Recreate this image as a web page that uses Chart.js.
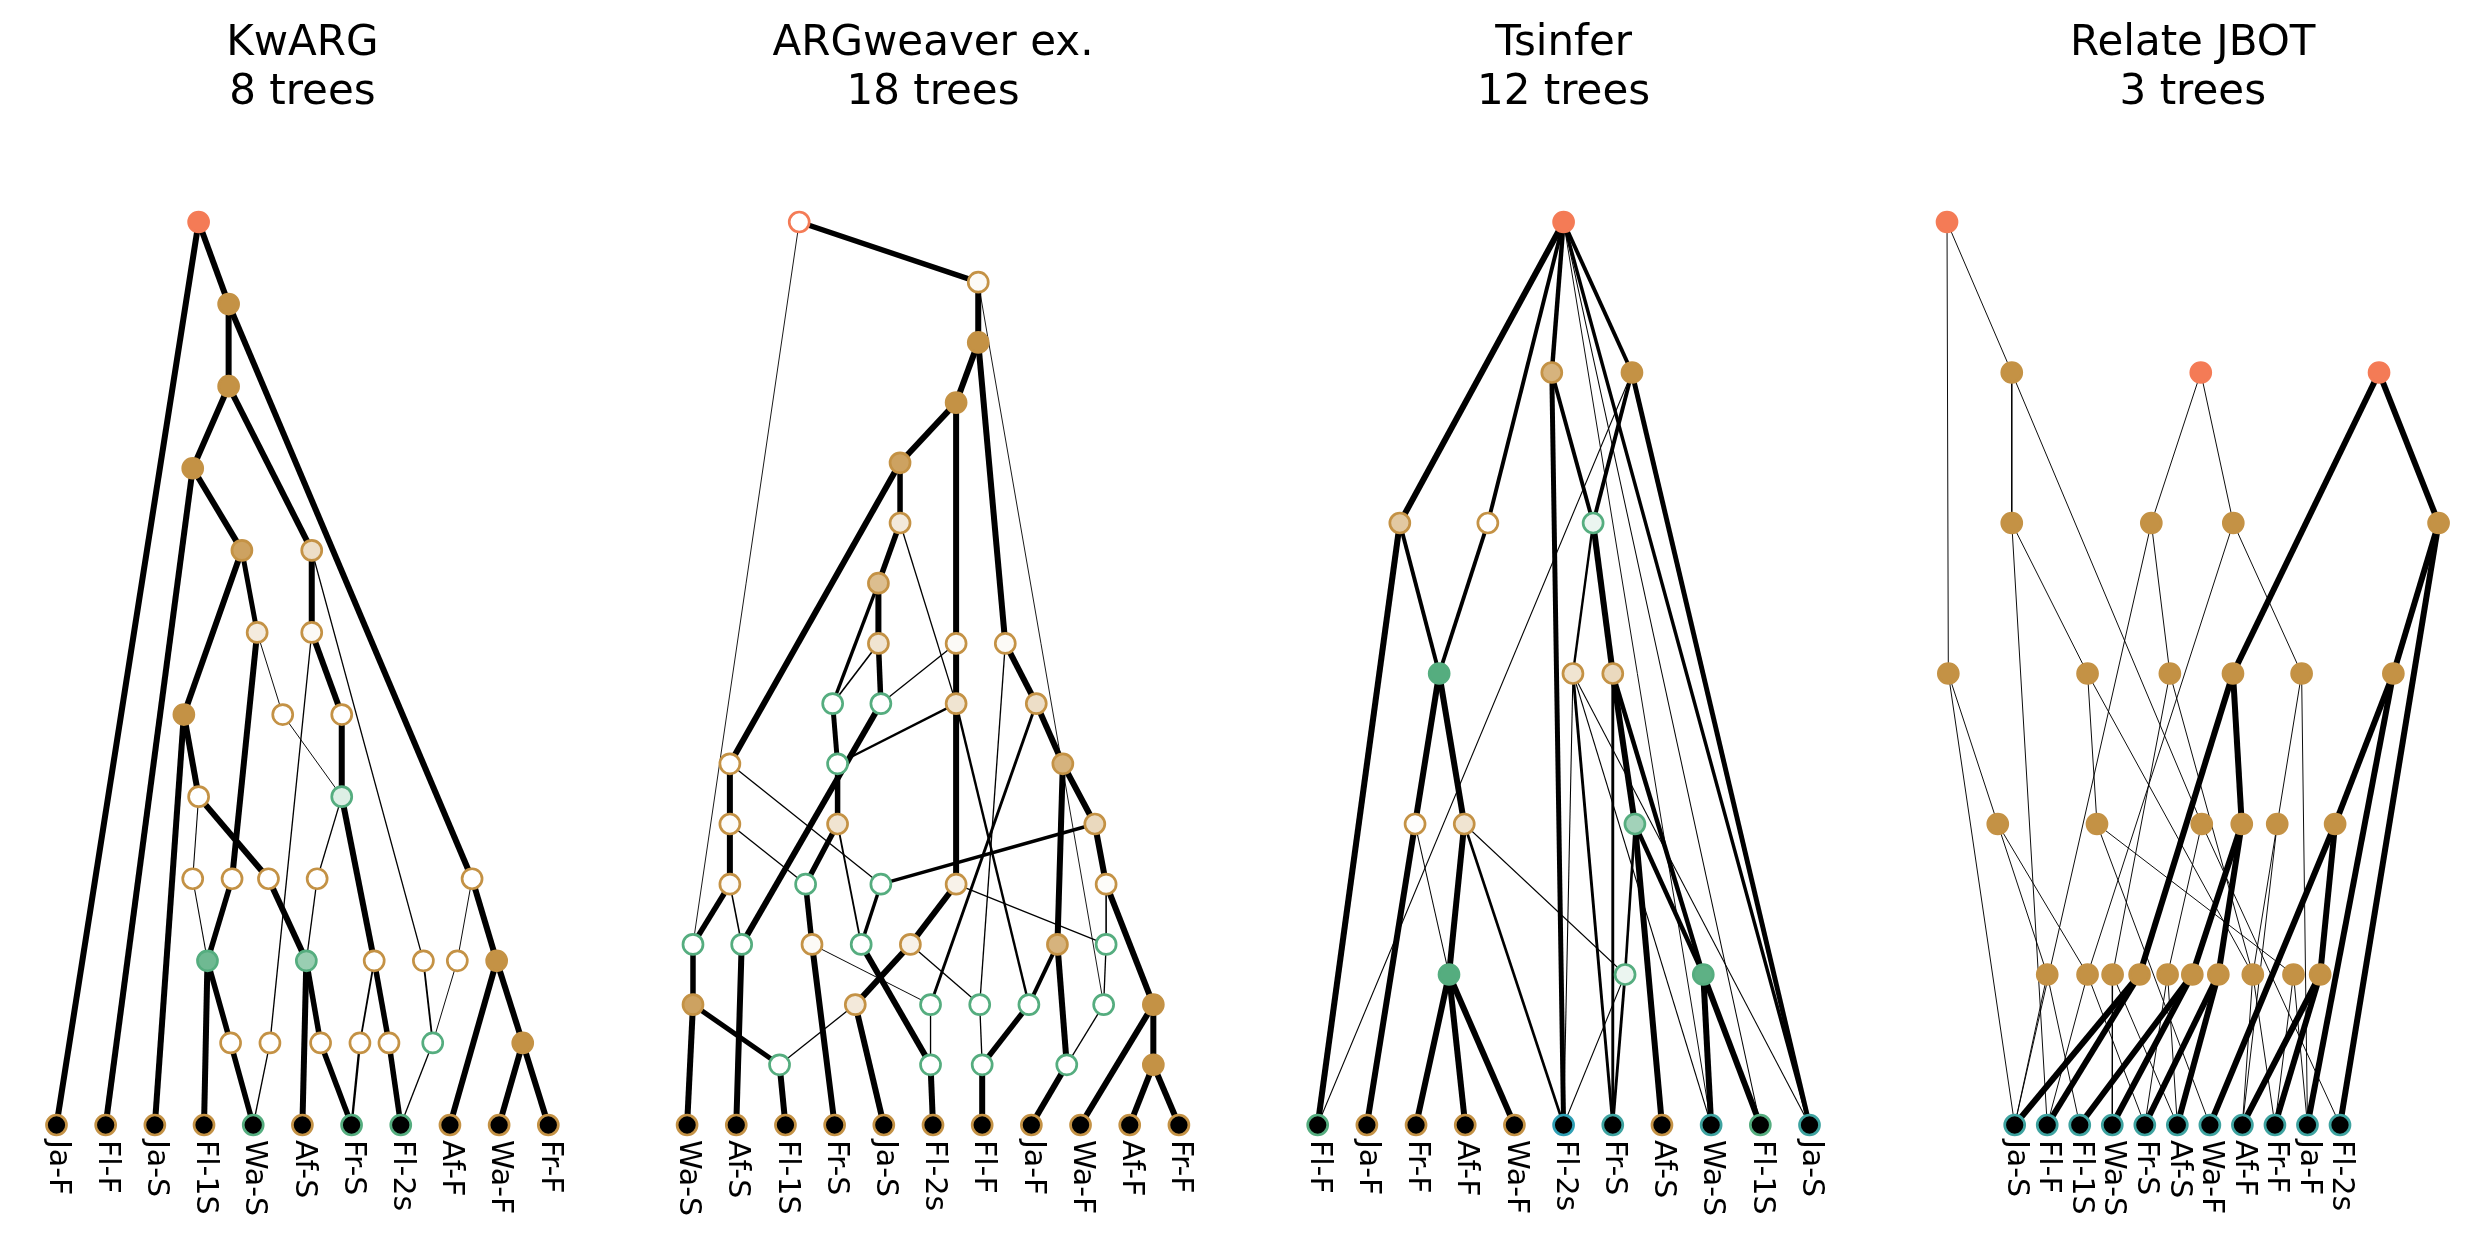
<!DOCTYPE html>
<html>
<head>
<meta charset="utf-8">
<script src="https://cdn.jsdelivr.net/npm/chart.js@4.4.1/dist/chart.umd.min.js"></script>
<style>
  html, body { margin: 0; padding: 0; background: #fff; }
  #wrap { position: relative; width: 2490px; height: 1248px; overflow: hidden; }
  .panel { position: absolute; top: 0; width: 622px; height: 1248px; }
</style>
</head>
<body>
<div id="wrap">
  <div class="panel" style="left:0px"><canvas id="p0"></canvas></div>
  <div class="panel" style="left:622px"><canvas id="p1"></canvas></div>
  <div class="panel" style="left:1245px"><canvas id="p2"></canvas></div>
  <div class="panel" style="left:1867px"><canvas id="p3"></canvas></div>
</div>
<script>
// node rows: [name, x (leaf units), level, colour group, fill share]
// edge rows: [from, to, weight]

// ---- KwARG ----
var kwargTitle = ['KwARG', '8 trees'];
var kwargLeaves = ['Ja-F', 'Fl-F', 'Ja-S', 'Fl-1S', 'Wa-S', 'Af-S', 'Fr-S', 'Fl-2s', 'Af-F', 'Wa-F', 'Fr-F'];
var kwargRings = ['b', 'b', 'b', 'b', 'g', 'b', 'g', 'g', 'b', 'b', 'b'];
var kwargNodes = [
    ['r', 2.89, 11, 'o', 1], ['a', 3.5, 10, 'b', 1], ['b', 3.5, 9, 'b', 1], ['c', 2.77, 8, 'b', 1],
    ['d', 3.77, 7, 'b', 0.85], ['e', 5.19, 7, 'b', 0.3], ['f', 4.08, 6, 'b', 0.18], ['g', 5.19, 6, 'b', 0.05],
    ['h', 2.59, 5, 'b', 1], ['i', 4.6, 5, 'b', 0], ['j', 5.8, 5, 'b', 0], ['k', 2.89, 4, 'b', 0],
    ['l', 5.8, 4, 'g', 0.2], ['m', 2.77, 3, 'b', 0], ['n', 3.57, 3, 'b', 0], ['o', 4.31, 3, 'b', 0],
    ['p', 5.3, 3, 'b', 0], ['q', 8.45, 3, 'b', 0], ['s', 3.07, 2, 'g', 0.85], ['t', 5.08, 2, 'g', 0.6],
    ['u', 6.46, 2, 'b', 0], ['v', 7.46, 2, 'b', 0], ['w', 8.15, 2, 'b', 0], ['x', 8.95, 2, 'b', 1],
    ['y', 3.54, 1, 'b', 0], ['z', 4.34, 1, 'b', 0], ['aa', 5.37, 1, 'b', 0], ['ab', 6.17, 1, 'b', 0],
    ['ac', 6.76, 1, 'b', 0], ['ad', 7.65, 1, 'g', 0], ['ae', 9.48, 1, 'b', 1]
];
var kwargEdges = [
    ['r', 'Ja-F', 1], ['r', 'a', 1], ['a', 'b', 1], ['a', 'q', 1], ['b', 'c', 1], ['b', 'e', 1],
    ['c', 'Fl-F', 1], ['c', 'd', 1], ['d', 'h', 1], ['d', 'f', 0.8], ['h', 'Ja-S', 1], ['h', 'k', 1],
    ['f', 'n', 1], ['f', 'i', 0.03], ['i', 'l', 0.03], ['e', 'g', 1], ['e', 'v', 0.1], ['g', 'j', 1],
    ['g', 'z', 0.1], ['j', 'l', 1], ['l', 'p', 0.1], ['l', 'u', 1], ['k', 'm', 0.05], ['k', 'o', 1],
    ['m', 's', 0.05], ['n', 's', 0.9], ['o', 't', 1], ['p', 't', 0.1], ['s', 'Fl-1S', 1], ['s', 'y', 0.9],
    ['y', 'Wa-S', 0.9], ['z', 'Wa-S', 0.1], ['t', 'Af-S', 1], ['t', 'aa', 0.9], ['aa', 'Fr-S', 0.9],
    ['u', 'ab', 0.2], ['u', 'ac', 0.9], ['ab', 'Fr-S', 0.3], ['ac', 'Fl-2s', 0.9], ['v', 'ad', 0.2],
    ['ad', 'Fl-2s', 0.1], ['q', 'w', 0.03], ['w', 'ad', 0.03], ['q', 'x', 1], ['x', 'Af-F', 1],
    ['x', 'ae', 1], ['ae', 'Wa-F', 1], ['ae', 'Fr-F', 1]
];

// ---- ARGweaver ex. ----
var argwTitle = ['ARGweaver ex.', '18 trees'];
var argwLeaves = ['Wa-S', 'Af-S', 'Fl-1S', 'Fr-S', 'Ja-S', 'Fl-2s', 'Fl-F', 'Ja-F', 'Wa-F', 'Af-F', 'Fr-F'];
var argwRings = ['b', 'b', 'b', 'b', 'b', 'b', 'b', 'b', 'b', 'b', 'b'];
var argwNodes = [
    ['r', 2.28, 15, 'o', 0], ['a', 5.92, 14, 'b', 0.05], ['b', 5.92, 13, 'b', 1], ['c', 5.47, 12, 'b', 1],
    ['d', 4.33, 11, 'b', 0.85], ['e', 4.33, 10, 'b', 0.2], ['f', 3.89, 9, 'b', 0.6], ['g', 3.89, 8, 'b', 0.25],
    ['h', 5.47, 8, 'b', 0.05], ['i', 6.47, 8, 'b', 0.05], ['j', 2.96, 7, 'g', 0], ['k', 3.94, 7, 'g', 0],
    ['l', 5.47, 7, 'b', 0.25], ['m', 7.1, 7, 'b', 0.3], ['n', 0.87, 6, 'b', 0], ['o', 3.06, 6, 'g', 0],
    ['p', 7.64, 6, 'b', 0.7], ['q', 0.87, 5, 'b', 0.03], ['s', 3.06, 5, 'b', 0.25], ['t', 8.29, 5, 'b', 0.35],
    ['u', 0.87, 4, 'b', 0.03], ['v', 2.41, 4, 'g', 0], ['w', 3.94, 4, 'g', 0], ['x', 5.47, 4, 'b', 0.12],
    ['y', 8.52, 4, 'b', 0.03], ['z1', 0.12, 3, 'g', 0], ['z2', 1.11, 3, 'g', 0], ['z3', 2.54, 3, 'b', 0.05],
    ['z4', 3.54, 3, 'g', 0], ['z5', 4.54, 3, 'b', 0.12], ['z6', 7.53, 3, 'b', 0.7], ['z7', 8.52, 3, 'g', 0],
    ['y1', 0.12, 2, 'b', 0.85], ['y2', 3.42, 2, 'b', 0.2], ['y3', 4.95, 2, 'g', 0], ['y4', 5.95, 2, 'g', 0],
    ['y5', 6.95, 2, 'g', 0], ['y6', 8.47, 2, 'g', 0], ['y7', 9.48, 2, 'b', 1], ['x1', 1.88, 1, 'g', 0],
    ['x2', 4.95, 1, 'g', 0], ['x3', 6.0, 1, 'g', 0], ['x4', 7.72, 1, 'g', 0], ['x5', 9.48, 1, 'b', 1]
];
var argwEdges = [
    ['r', 'a', 0.9], ['r', 'z1', 0.02], ['a', 'b', 1], ['a', 'y6', 0.02], ['b', 'c', 1], ['b', 'i', 1],
    ['c', 'd', 1], ['c', 'h', 1], ['d', 'e', 0.9], ['d', 'n', 1], ['e', 'f', 0.9], ['e', 'l', 0.1],
    ['f', 'g', 1], ['f', 'j', 0.5], ['g', 'j', 0.15], ['g', 'k', 0.9], ['h', 'l', 1], ['h', 'k', 0.1],
    ['l', 'o', 0.3], ['l', 'x', 1], ['l', 'y5', 0.3], ['i', 'm', 1], ['i', 'y4', 0.1], ['m', 'p', 1],
    ['m', 'y3', 0.4], ['j', 'o', 0.8], ['k', 'z2', 1], ['o', 's', 0.9], ['n', 'q', 1], ['n', 'w', 0.1],
    ['q', 'u', 1], ['q', 'v', 0.1], ['s', 'v', 0.9], ['s', 'z4', 0.2], ['w', 'z4', 0.5], ['p', 't', 1],
    ['p', 'z6', 1], ['t', 'w', 0.5], ['t', 'y', 1], ['u', 'z1', 0.9], ['u', 'z2', 0.15], ['v', 'z3', 0.9],
    ['x', 'z5', 1], ['x', 'z7', 0.1], ['z5', 'y2', 1], ['z5', 'y4', 0.1], ['y', 'z7', 0.15], ['y', 'y7', 1],
    ['z1', 'y1', 0.9], ['z2', 'Af-S', 1], ['z3', 'Fr-S', 1], ['z3', 'y3', 0.05], ['z4', 'x2', 1],
    ['z6', 'y5', 0.6], ['z6', 'x4', 1], ['z7', 'y6', 0.1], ['y1', 'Wa-S', 1], ['y1', 'x1', 0.8],
    ['y2', 'x1', 0.1], ['y2', 'Ja-S', 1], ['y3', 'x2', 0.1], ['y4', 'x3', 0.1], ['y5', 'x3', 0.9],
    ['y6', 'x4', 0.1], ['y7', 'x5', 1], ['y7', 'Wa-F', 1], ['x1', 'Fl-1S', 1], ['x2', 'Fl-2s', 1],
    ['x3', 'Fl-F', 1], ['x4', 'Ja-F', 1], ['x5', 'Af-F', 1], ['x5', 'Fr-F', 1]
];

// ---- Tsinfer ----
var tsinTitle = ['Tsinfer', '12 trees'];
var tsinLeaves = ['Fl-F', 'Ja-F', 'Fr-F', 'Af-F', 'Wa-F', 'Fl-2s', 'Fr-S', 'Af-S', 'Wa-S', 'Fl-1S', 'Ja-S'];
var tsinRings = ['g', 'b', 'b', 'b', 'b', 'tb', 't', 'b', 't', 'g', 't'];
var tsinNodes = [
    ['r', 5.0, 6, 'o', 1], ['a', 4.76, 5, 'b', 0.7], ['b', 6.39, 5, 'b', 1], ['c', 1.67, 4, 'b', 0.5],
    ['d', 3.46, 4, 'b', 0], ['e', 5.6, 4, 'g', 0.12], ['f', 2.47, 3, 'g', 1], ['g', 5.19, 3, 'b', 0.25],
    ['h', 6.0, 3, 'b', 0.35], ['i', 1.98, 2, 'b', 0.02], ['j', 2.98, 2, 'b', 0.25], ['k', 6.45, 2, 'g', 0.55],
    ['l', 2.67, 1, 'g', 1], ['m', 6.25, 1, 'g', 0.12], ['n', 7.84, 1, 'g', 0.95]
];
var tsinEdges = [
    ['r', 'c', 1], ['r', 'd', 0.6], ['r', 'a', 0.7], ['r', 'b', 0.6], ['r', 'Wa-S', 0.03], ['r', 'Fl-1S', 0.05],
    ['r', 'Ja-S', 0.5], ['a', 'Fl-2s', 0.8], ['a', 'e', 0.6], ['b', 'e', 0.6], ['b', 'Ja-S', 0.8],
    ['b', 'Fl-F', 0.05], ['c', 'Fl-F', 1], ['c', 'f', 0.6], ['d', 'f', 0.6], ['e', 'g', 0.3], ['e', 'h', 1],
    ['f', 'i', 1], ['f', 'j', 1], ['i', 'Ja-F', 1], ['i', 'l', 0.05], ['j', 'l', 1], ['j', 'Fl-2s', 0.35],
    ['j', 'm', 0.05], ['l', 'Fr-F', 1], ['l', 'Af-F', 1], ['l', 'Wa-F', 1], ['g', 'Fl-2s', 0.05],
    ['g', 'Fr-S', 0.4], ['g', 'Wa-S', 0.05], ['g', 'Ja-S', 0.05], ['h', 'k', 1], ['h', 'Fr-S', 0.4],
    ['h', 'n', 0.7], ['k', 'Af-S', 1], ['k', 'm', 0.35], ['k', 'n', 0.7], ['m', 'Fr-S', 0.4],
    ['m', 'Fl-2s', 0.05], ['n', 'Wa-S', 1], ['n', 'Fl-1S', 1]
];

// ---- Relate JBOT ----
var relTitle = ['Relate JBOT', '3 trees'];
var relLeaves = ['Ja-S', 'Fl-F', 'Fl-1S', 'Wa-S', 'Fr-S', 'Af-S', 'Wa-F', 'Af-F', 'Fr-F', 'Ja-F', 'Fl-2s'];
var relRings = ['t', 't', 't', 't', 't', 't', 't', 't', 't', 't', 't'];
var relNodes = [
    ['r1', -2.08, 6, 'o', 1], ['a', -0.09, 5, 'b', 1], ['r2', 5.72, 5, 'o', 1], ['r3', 11.2, 5, 'o', 1],
    ['b', -0.09, 4, 'b', 1], ['c', 4.2, 4, 'b', 1], ['d', 6.72, 4, 'b', 1], ['e', 13.03, 4, 'b', 1],
    ['f', -2.04, 3, 'b', 1], ['g', 2.24, 3, 'b', 1], ['h', 4.77, 3, 'b', 1], ['i', 6.71, 3, 'b', 1],
    ['j', 8.82, 3, 'b', 1], ['k', 11.64, 3, 'b', 1], ['l', -0.52, 2, 'b', 1], ['m', 2.53, 2, 'b', 1],
    ['n', 5.75, 2, 'b', 1], ['o', 6.98, 2, 'b', 1], ['p', 8.07, 2, 'b', 1], ['q', 9.85, 2, 'b', 1],
    ['u1', 1.0, 1, 'b', 1], ['u2', 2.24, 1, 'b', 1], ['u3', 3.01, 1, 'b', 1], ['u4', 3.84, 1, 'b', 1],
    ['u5', 4.7, 1, 'b', 1], ['u6', 5.46, 1, 'b', 1], ['u7', 6.26, 1, 'b', 1], ['u8', 7.32, 1, 'b', 1],
    ['u9', 8.57, 1, 'b', 1], ['u10', 9.39, 1, 'b', 1]
];
var relEdges = [
    ['r1', 'f', 0.03], ['r1', 'a', 0.03], ['a', 'b', 0.03], ['a', 'n', 0.03], ['b', 'Fl-F', 0.03],
    ['b', 'g', 0.03], ['f', 'Ja-S', 0.03], ['f', 'l', 0.03], ['l', 'u1', 0.03], ['l', 'u2', 0.03],
    ['g', 'm', 0.03], ['g', 'u8', 0.03], ['m', 'u9', 0.03], ['m', 'Wa-F', 0.03], ['r2', 'c', 0.03],
    ['r2', 'd', 0.03], ['c', 'h', 0.03], ['c', 'Ja-S', 0.03], ['d', 'u2', 0.03], ['d', 'j', 0.03],
    ['h', 'u3', 0.03], ['h', 'u8', 0.03], ['n', 'u5', 0.03], ['n', 'Fl-2s', 0.03], ['j', 'p', 0.03],
    ['j', 'Ja-F', 0.03], ['p', 'u8', 0.03], ['p', 'Af-F', 0.03], ['u1', 'Ja-S', 0.03], ['u1', 'Fl-1S', 0.03],
    ['u2', 'Fl-F', 0.03], ['u2', 'Fr-S', 0.03], ['u3', 'Wa-S', 0.03], ['u3', 'Af-S', 0.03],
    ['u5', 'Fr-S', 0.03], ['u5', 'Af-S', 0.03], ['u8', 'Af-F', 0.03], ['u8', 'Fr-F', 0.03],
    ['u9', 'Fr-F', 0.03], ['u9', 'Ja-F', 0.03],
    ['r3', 'i', 1], ['r3', 'e', 1], ['i', 'o', 1], ['i', 'u4', 1], ['u4', 'Ja-S', 1], ['u4', 'Fl-F', 1],
    ['o', 'u6', 1], ['o', 'u7', 1], ['u6', 'Fl-1S', 1], ['u6', 'Wa-S', 1], ['u7', 'Fr-S', 1],
    ['u7', 'Af-S', 1], ['e', 'k', 1], ['e', 'Fl-2s', 1], ['k', 'q', 1], ['k', 'Ja-F', 1],
    ['q', 'u10', 1], ['q', 'Wa-F', 1], ['u10', 'Af-F', 1], ['u10', 'Fr-F', 1]
];

var colours = { b: '#c49245', g: '#55ad7f', o: '#f47b56', t: '#3ea3a0', tb: '#2f9fb4' };

// blend a colour with white, share = 1 gives the pure colour
function tint(hex, share) {
    var out = [1, 3, 5].map(function(k) {
        var c = parseInt(hex.slice(k, k + 2), 16);
        return Math.round(255 + (c - 255) * share);
    });
    return 'rgb(' + out.join(',') + ')';
}

// draws the leaf names turned 90 degrees under each leaf
var leafLabels = {
    id: 'leafLabels',
    afterDraw: function(chart, args, opts) {
        var ctx = chart.ctx;
        var xs = chart.scales.x;
        var top = chart.chartArea.bottom + 15;
        ctx.save();
        ctx.fillStyle = '#000';
        ctx.font = '30px "DejaVu Sans"';
        ctx.textAlign = 'left';
        ctx.textBaseline = 'middle';
        opts.names.forEach(function(name, i) {
            ctx.save();
            ctx.translate(xs.getPixelForValue(i) + 1, top);
            ctx.rotate(Math.PI / 2);
            ctx.fillText(name, 0, 0);
            ctx.restore();
        });
        ctx.restore();
    }
};

function drawPanel(id, title, leaves, rings, nodes, edges, xMin, xMax, yMax, padLeft, padRight) {
    var pos = {};
    var points = [], fills = [], borders = [];

    leaves.forEach(function(name, i) {
        pos[name] = { x: i, y: 0 };
        points.push({ x: i, y: 0 });
        fills.push('#000');
        borders.push(colours[rings[i]]);
    });
    nodes.forEach(function(n) {
        pos[n[0]] = { x: n[1], y: n[2] };
        points.push({ x: n[1], y: n[2] });
        fills.push(tint(colours[n[3]], n[4]));
        borders.push(colours[n[3]]);
    });

    // first dataset is painted last, so the nodes sit on top of the edges
    var datasets = [{
        data: points,
        backgroundColor: fills,
        borderColor: borders,
        borderWidth: 2.7,
        pointRadius: 10,
        clip: false
    }];
    edges.forEach(function(e) {
        var p = pos[e[0]], q = pos[e[1]];
        datasets.push({
            data: [{ x: p.x, y: p.y }, { x: q.x, y: q.y }],
            showLine: true,
            borderColor: '#000',
            borderWidth: 0.8 + 5.2 * e[2],
            pointRadius: 0,
            clip: false
        });
    });

    new Chart(document.getElementById(id), {
        type: 'scatter',
        data: { datasets: datasets },
        options: {
            responsive: true,
            maintainAspectRatio: false,
            animation: false,
            events: [],
            layout: { padding: { top: 0, left: padLeft, right: padRight, bottom: 123 } },
            scales: {
                x: { type: 'linear', min: xMin, max: xMax, display: false },
                y: { type: 'linear', min: 0, max: yMax, display: false }
            },
            plugins: {
                legend: { display: false },
                tooltip: { enabled: false },
                title: {
                    display: true,
                    text: title,
                    color: '#000',
                    font: { family: 'DejaVu Sans', size: 42, weight: 'normal', lineHeight: 1.1667 },
                    padding: { top: 20, bottom: 104 }
                },
                leafLabels: { names: leaves }
            }
        },
        plugins: [leafLabels]
    });
}

drawPanel('p0', kwargTitle, kwargLeaves, kwargRings, kwargNodes, kwargEdges, -0.5, 10.5, 11, 31.9, 49.1);
drawPanel('p1', argwTitle, argwLeaves, argwRings, argwNodes, argwEdges, -0.5, 10.5, 15, 40.5, 40.5);
drawPanel('p2', tsinTitle, tsinLeaves, tsinRings, tsinNodes, tsinEdges, -0.5, 10.5, 6, 48.1, 32.9);
drawPanel('p3', relTitle, relLeaves, relRings, relNodes, relEdges, -2.84, 13.79, 6, 55.3, 25.7);
</script>
</body>
</html>
